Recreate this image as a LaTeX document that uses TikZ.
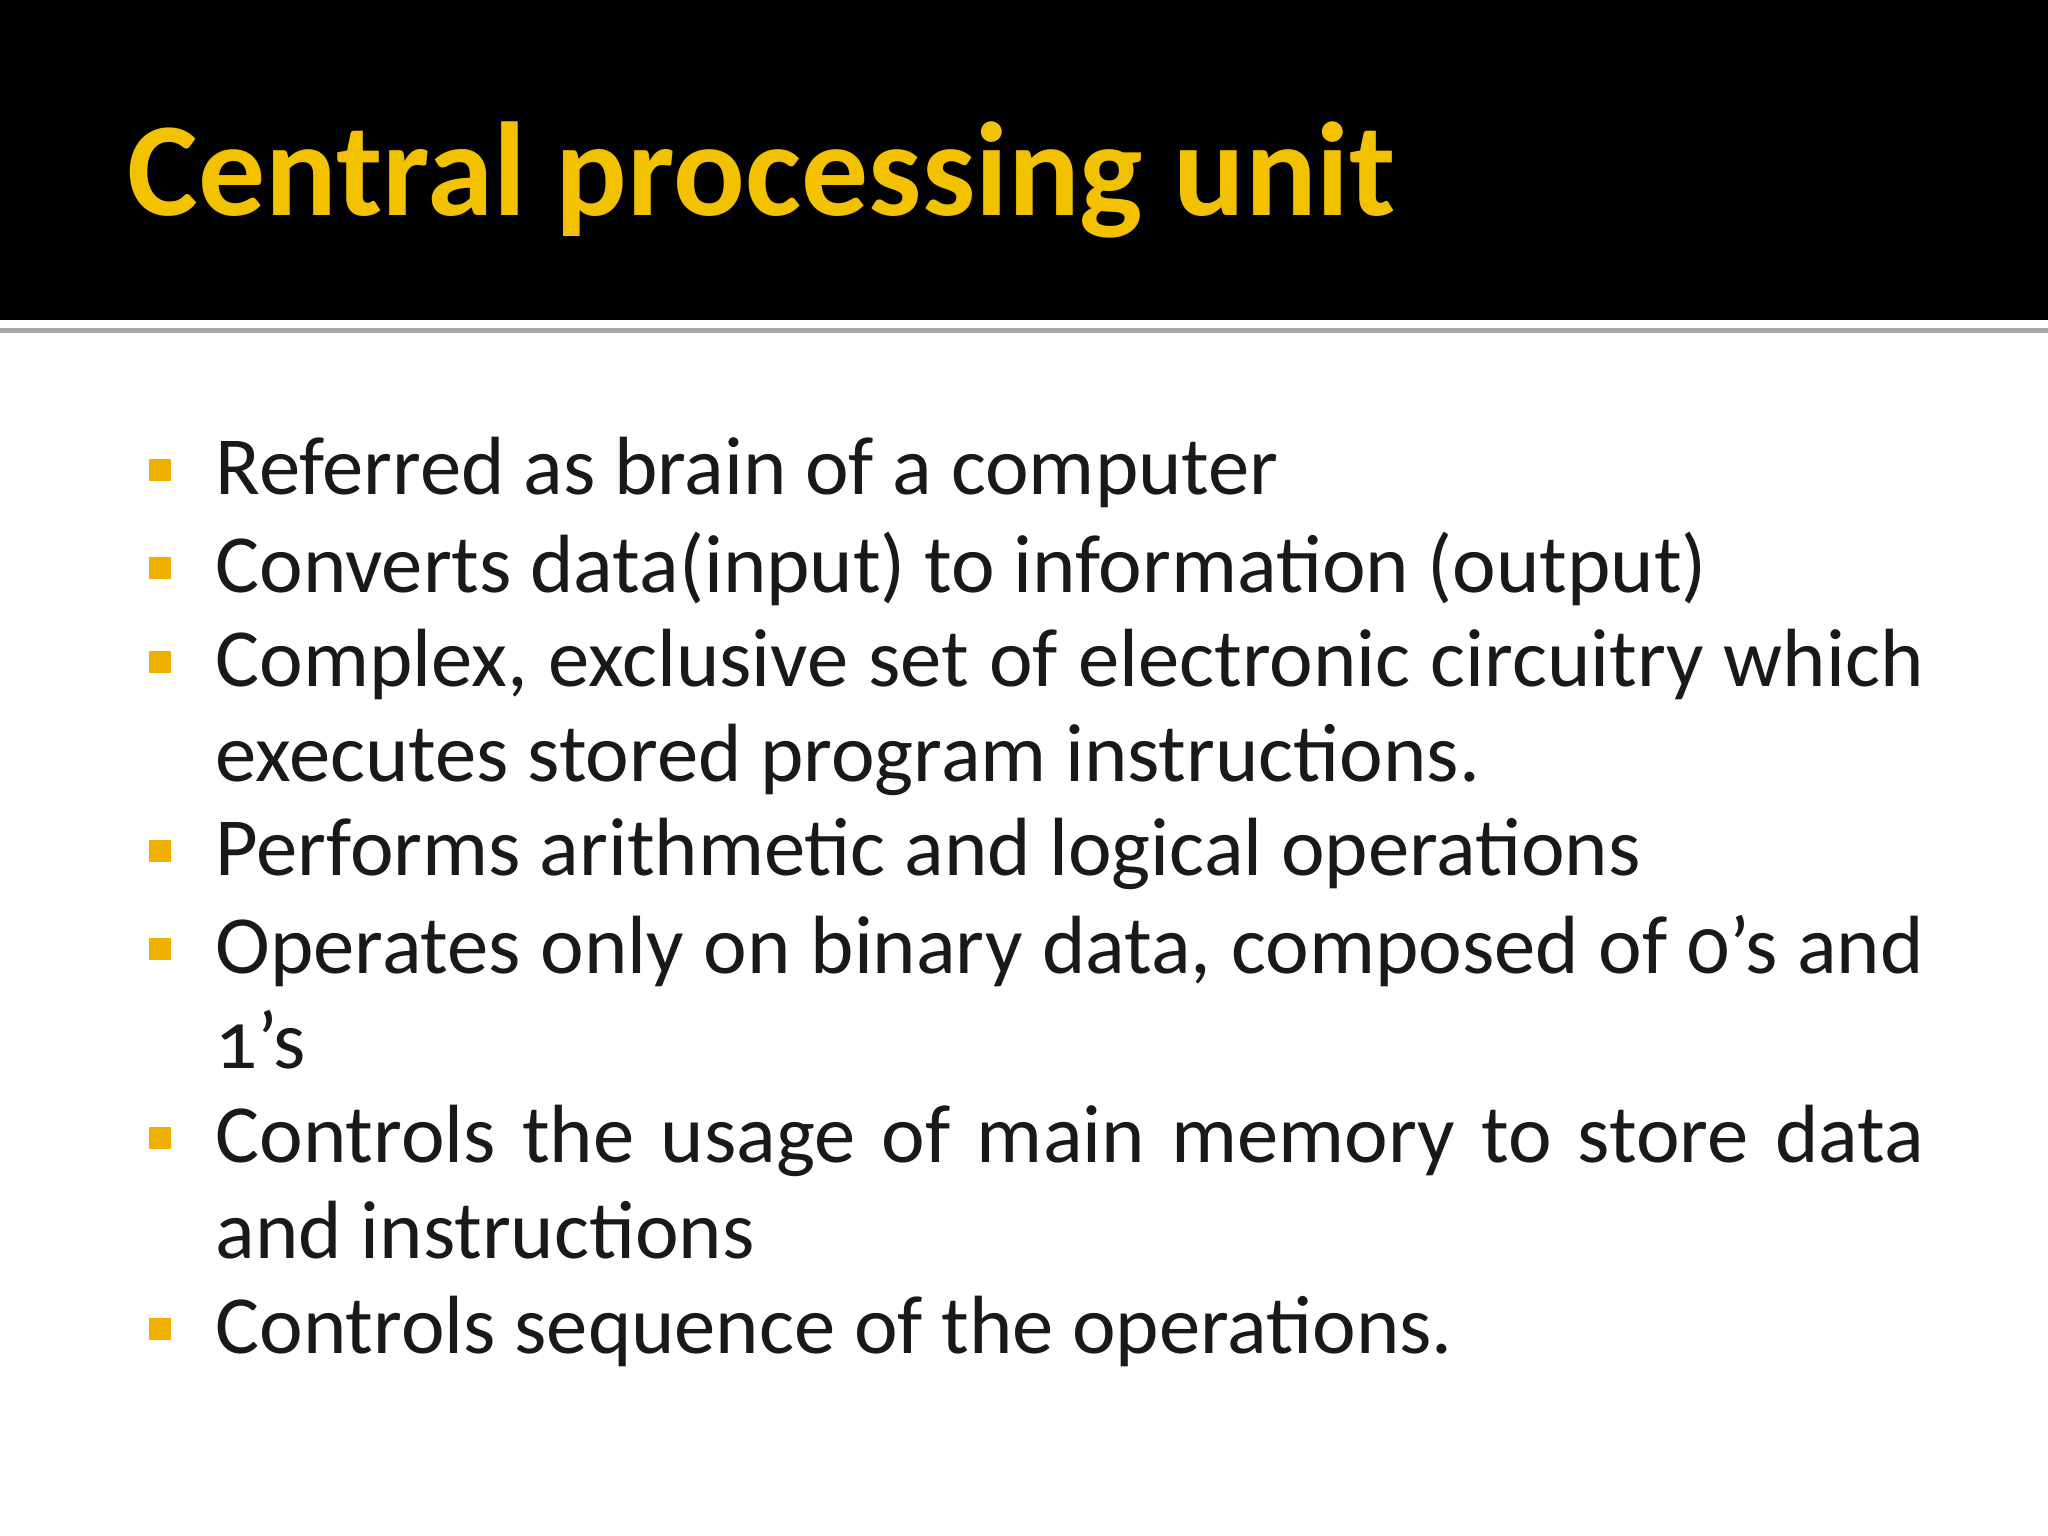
\documentclass[tikz,border=0pt]{standalone}
\usepackage{fontspec}
\setmainfont[Numbers=OldStyle]{Carlito}
\definecolor{gold}{HTML}{F2C200}
\definecolor{bul}{HTML}{F0B000}
\begin{document}
\begin{tikzpicture}[x=0.01cm,y=-0.01cm,
  line/.style={anchor=base west,inner sep=0,font=\fontsize{23.5}{28}\selectfont,text=black!90},
  bsq/.style={fill=bul,minimum size=0.22cm,inner sep=0}]
\useasboundingbox (0,0) rectangle (2048,1536);
\fill[white] (0,0) rectangle (2048,1536);
\fill[black] (0,0) rectangle (2048,320);
\fill[gray!70] (0,328) rectangle (2048,333);
\node[anchor=base west,inner sep=0,text=gold,font=\fontsize{38}{44}\selectfont\bfseries] (title) at (127,215) {Central processing unit};
\foreach \y in {494,592,686,875,973,1162,1353} \node[bsq] at (160,\y-24) {};
\node[line] (l1) at (215,494) {Referred as brain of a computer};
\node[line] (l2) at (215,592) {Converts data(input) to information (output)};
\node[line] (l3) at (215,686) {\makebox[17.07cm][s]{Complex, exclusive set of electronic circuitry which}};
\node[line] (l4) at (215,781) {executes stored program instructions.};
\node[line] (l5) at (215,875) {Performs arithmetic and logical operations};
\node[line] (l6) at (215,973) {\makebox[17.07cm][s]{Operates only on binary data, composed of 0’s and}};
\node[line] (l7) at (215,1068) {1’s};
\node[line] (l8) at (215,1162) {\makebox[17.07cm][s]{Controls the usage of main memory to store data}};
\node[line] (l9) at (215,1258) {and instructions};
\node[line] (l10) at (215,1353) {Controls sequence of the operations.};
\end{tikzpicture}
\end{document}
